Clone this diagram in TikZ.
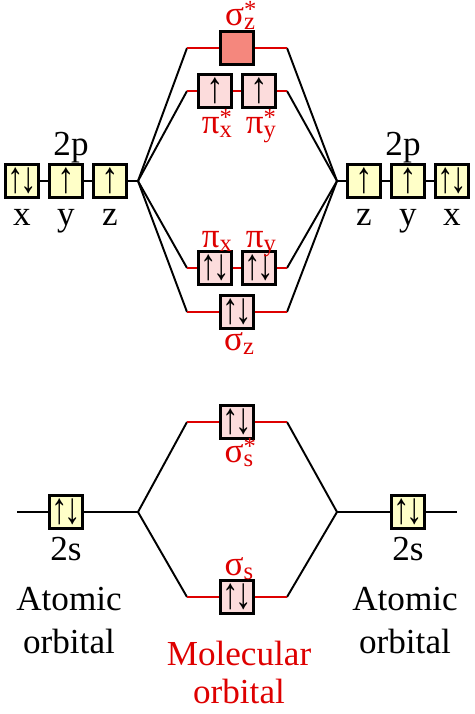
\documentclass[tikz,border=0pt]{standalone}
\usepackage{fontspec}
\usepackage{graphicx}
\setmainfont{Liberation Serif}
\usetikzlibrary{positioning}

\definecolor{aoyellow}{RGB}{255,255,200}
\definecolor{mopink}{RGB}{252,220,220}
\definecolor{antired}{RGB}{245,135,125}
\definecolor{mored}{RGB}{222,0,0}

\newcommand{\up}{\scalebox{0.8}[1]{↑}}
\newcommand{\pair}{\scalebox{0.75}[1]{↑\kern-3pt↓}}
\newcommand{\lsub}[1]{\raisebox{-0.12em}{\fontsize{14}{14}\selectfont #1}}
\newcommand{\orb}[3]{#1\rlap{\raisebox{0.22em}{\fontsize{14}{14}\selectfont #2}}\lsub{#3}}

\begin{document}
\begin{tikzpicture}[x=0.02cm, y=-0.02cm, font=\fontsize{20}{24}\selectfont,
  ao/.style={draw, line width=1.3pt, fill=aoyellow, minimum size=0.66cm,
    inner sep=0pt, font=\bfseries\fontsize{25}{25}\selectfont},
  mo/.style={ao, fill=mopink},
  link/.style={line width=1.1pt},
  level/.style={mored, line width=1.1pt},
  molabel/.style={mored, anchor=base}]
 \useasboundingbox (0,0) rectangle (474,714);
 % junctions and free ends
 \coordinate (jpL) at (138,181);
 \coordinate (jpR) at (337,181);
 \coordinate (jsL) at (138,512);
 \coordinate (jsR) at (337,512);
 \coordinate (endl) at (17,512);
 \coordinate (endr) at (457,512);
 \foreach \n/\y in {sigzs/48, pis/91, pi/268, sigz/312, sigss/422, sigs/597} {
  \coordinate (\n-l) at (187,\y);
  \coordinate (\n-r) at (287,\y);
 }
 % correlation lines
 \foreach \n in {sigzs, pis, pi, sigz}
  \draw[link] (jpL) -- (\n-l) (jpR) -- (\n-r);
 \foreach \n in {sigss, sigs}
  \draw[link] (jsL) -- (\n-l) (jsR) -- (\n-r);

 % atomic orbitals
 \node[ao] (pxl) at (22,181) {\pair};
 \node[ao] (pyl) at (66,181) {\up};
 \node[ao] (pzl) at (110,181) {\up};
 \node[ao] (pzr) at (364,181) {\up};
 \node[ao] (pyr) at (408,181) {\up};
 \node[ao] (pxr) at (452,181) {\pair};
 \node[ao] (s2l) at (66,512) {\pair};
 \node[ao] (s2r) at (408,512) {\pair};
 \draw[link] (pxl) -- (pyl) -- (pzl) -- (jpL);
 \draw[link] (jpR) -- (pzr) -- (pyr) -- (pxr);
 \draw[link] (endl) -- (s2l) -- (jsL);
 \draw[link] (jsR) -- (s2r) -- (endr);

 % molecular orbitals
 \node[mo, fill=antired] (sigzs) at (237,48) {};
 \node[mo] (pixs) at (215,91) {\up};
 \node[mo] (piys) at (259,91) {\up};
 \node[mo] (pix) at (215,268) {\pair};
 \node[mo] (piy) at (259,268) {\pair};
 \node[mo] (sigz) at (237,312) {\pair};
 \node[mo] (sigss) at (237,422) {\pair};
 \node[mo] (sigs) at (237,597) {\pair};
 \draw[level] (sigzs-l) -- (sigzs) -- (sigzs-r);
 \draw[level] (pis-l) -- (pixs) -- (piys) -- (pis-r);
 \draw[level] (pi-l) -- (pix) -- (piy) -- (pi-r);
 \draw[level] (sigz-l) -- (sigz) -- (sigz-r);
 \draw[level] (sigss-l) -- (sigss) -- (sigss-r);
 \draw[level] (sigs-l) -- (sigs) -- (sigs-r);

 % labels
 \node[molabel] at (240,25) {\orb{σ}{*}{z}};
 \node[molabel] at (217,133) {\orb{π}{*}{x}};
 \node[molabel] at (261,133) {\orb{π}{*}{y}};
 \node[molabel] at (217,247) {π\lsub{x}};
 \node[molabel] at (261,247) {π\lsub{y}};
 \node[molabel] at (239,350) {σ\lsub{z}};
 \node[molabel] at (239,462) {\orb{σ}{*}{s}};
 \node[molabel] at (239,575) {σ\lsub{s}};
 \node[anchor=base] at (71,155) {2p};
 \node[anchor=base] at (403,155) {2p};
 \foreach \t/\x in {x/22, y/66, z/110, z/364, y/408, x/452}
  \node[anchor=base] at (\x,225) {\t};
 \node[anchor=base] at (66,560) {2s};
 \node[anchor=base] at (408,560) {2s};
 \node[align=center, anchor=base] at (69,653) {Atomic\\orbital};
 \node[align=center, anchor=base] at (405,653) {Atomic\\orbital};
 \node[align=center, anchor=base, mored] at (239,703) {Molecular\\[-2.5pt]orbital};
\end{tikzpicture}
\end{document}
